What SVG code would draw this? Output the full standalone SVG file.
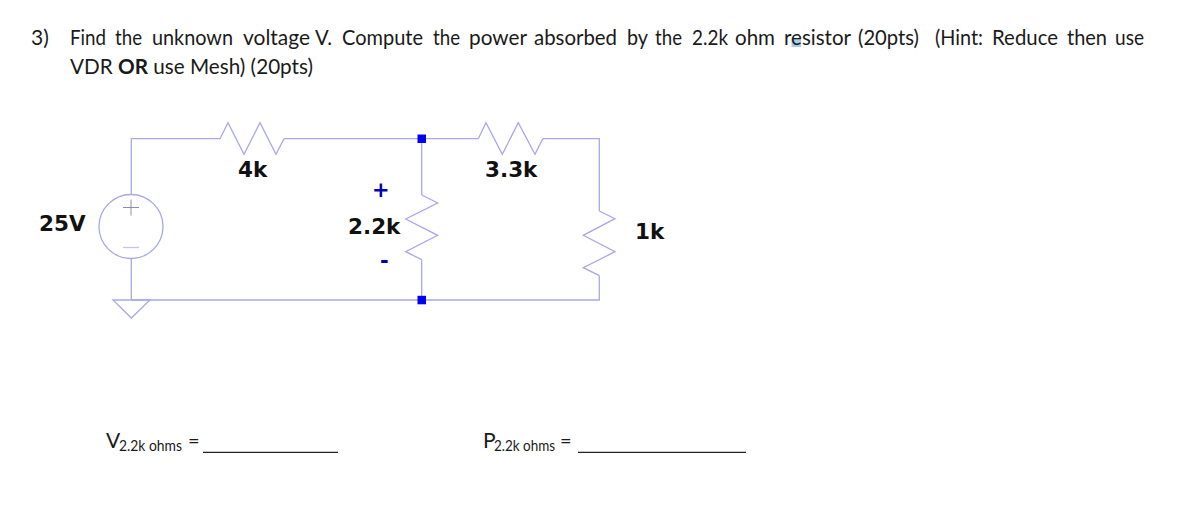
<svg xmlns="http://www.w3.org/2000/svg" width="1186" height="532" viewBox="0 0 1186 532">
<style>
.t{font-family:Lato,"Liberation Sans",sans-serif;font-size:21px;fill:#1a1a1a}
.s{font-family:Lato,"Liberation Sans",sans-serif;fill:#1a1a1a}
.l{font-family:"DejaVu Sans",sans-serif;font-weight:700;font-size:21.500px;fill:#111}
.p{font-family:"DejaVu Sans",sans-serif;font-weight:700;font-size:21px;fill:#0000b0}
.w{fill:none;stroke:#a8a8ea;stroke-width:1.300}
.d{fill:#0000f0}
</style>
<rect width="1186" height="532" fill="#fff"/>
<g id="question">
<rect x="791.500" y="38" width="9.500" height="9" fill="#a9cde8"/>
<text class="t" x="31" y="45">3)</text>
<text class="t" x="70" y="45" textLength="36" lengthAdjust="spacingAndGlyphs">Find</text>
<text class="t" x="115" y="45" textLength="27" lengthAdjust="spacingAndGlyphs">the</text>
<text class="t" x="152" y="45" textLength="81" lengthAdjust="spacingAndGlyphs">unknown</text>
<text class="t" x="243" y="45" textLength="67" lengthAdjust="spacingAndGlyphs">voltage</text>
<text class="t" x="315" y="45" textLength="17" lengthAdjust="spacingAndGlyphs">V.</text>
<text class="t" x="342" y="45" textLength="81" lengthAdjust="spacingAndGlyphs">Compute</text>
<text class="t" x="433" y="45" textLength="27" lengthAdjust="spacingAndGlyphs">the</text>
<text class="t" x="469" y="45" textLength="58" lengthAdjust="spacingAndGlyphs">power</text>
<text class="t" x="534" y="45" textLength="83" lengthAdjust="spacingAndGlyphs">absorbed</text>
<text class="t" x="627" y="45" textLength="21" lengthAdjust="spacingAndGlyphs">by</text>
<text class="t" x="655" y="45" textLength="27" lengthAdjust="spacingAndGlyphs">the</text>
<text class="t" x="692" y="45" textLength="36" lengthAdjust="spacingAndGlyphs">2.2k</text>
<text class="t" x="735" y="45" textLength="40" lengthAdjust="spacingAndGlyphs">ohm</text>
<text class="t" x="784" y="45" textLength="67" lengthAdjust="spacingAndGlyphs">resistor</text>
<text class="t" x="858" y="45" textLength="61" lengthAdjust="spacingAndGlyphs">(20pts)</text>
<text class="t" x="935" y="45" textLength="48" lengthAdjust="spacingAndGlyphs">(Hint:</text>
<text class="t" x="992" y="45" textLength="66" lengthAdjust="spacingAndGlyphs">Reduce</text>
<text class="t" x="1067" y="45" textLength="40" lengthAdjust="spacingAndGlyphs">then</text>
<text class="t" x="1115" y="45" textLength="29" lengthAdjust="spacingAndGlyphs">use</text>
<text class="t" x="70" y="74" textLength="243" lengthAdjust="spacingAndGlyphs">VDR <tspan font-weight="700">OR</tspan> use Mesh) (20pts)</text>
</g>
<g id="connectors">
<path class="w" d="M131.300 194.500V138.700H220M284 138.700H421.700M421.700 138.700V195M421.700 259.700V300M478.300 138.700H421.700M542.700 138.700H599.300V211M599.300 275.700V300H131.300M131.300 258.500V300"/>
</g>
<g id="V1">
<circle class="w" cx="131" cy="226.500" r="32"/>
<path d="M123 207.500H139M131 199.500V215.500" fill="none" stroke="#8c8cb8" stroke-width="1"/>
<path d="M123 247.500H139" fill="none" stroke="#c4c4e6" stroke-width="1.200"/>
<text class="l" x="39" y="231">25V</text>
</g>
<g id="ground"><path class="w" d="M113 300H150L131.300 318Z"/></g>
<g id="R1">
<path class="w" d="M220 138.700L228 122.700L244 154.300L260 122.700L276 154.300L284 138.700"/>
<text class="l" x="238" y="177">4k</text>
</g>
<g id="R2">
<path class="w" d="M421.700 195L437.700 203L405.700 219L437.700 235.300L405.700 251.700L421.700 259.700"/>
<text class="l" x="348" y="234">2.2k</text>
<text class="p" x="372" y="197">+</text>
<text class="p" x="380" y="268">-</text>
</g>
<g id="R3">
<path class="w" d="M478.300 138.700L486 122.700L502.300 154.300L518.300 122.700L535 154.300L542.700 138.700"/>
<text class="l" x="485" y="177">3.3k</text>
</g>
<g id="R4">
<path class="w" d="M599.300 211L615 218.700L583.300 235.300L615 251.700L583.300 267.700L599.300 275.700"/>
<text class="l" x="635" y="239">1k</text>
</g>
<g id="node-top"><rect class="d" x="417.500" y="134.500" width="8.500" height="8.500"/></g>
<g id="node-bottom"><rect class="d" x="417.500" y="295.800" width="8.500" height="8.500"/></g>
<g id="answers">
<text class="s" x="106" y="448" font-size="21">V</text>
<text class="s" x="119" y="450.500" font-size="14.500" textLength="63" lengthAdjust="spacingAndGlyphs">2.2k ohms</text>
<text class="s" x="188" y="448" font-size="20">=</text>
<text class="s" x="483" y="448" font-size="21">P</text>
<text class="s" x="494" y="450.500" font-size="14.500" textLength="61" lengthAdjust="spacingAndGlyphs">2.2k ohms</text>
<text class="s" x="560" y="448" font-size="20">=</text>
<path d="M203 452.300H338M578 452.300H746" stroke="#222" stroke-width="1.300" fill="none"/>
</g>
</svg>
